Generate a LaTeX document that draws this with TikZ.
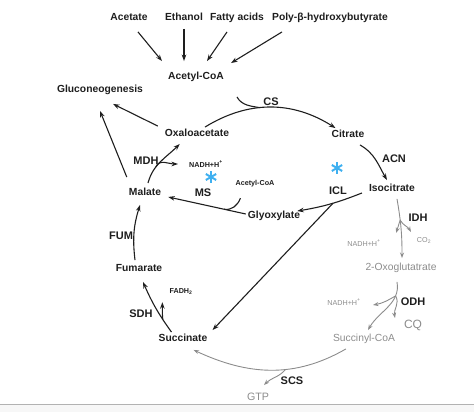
\documentclass[tikz,border=0pt]{standalone}
\usepackage{fontspec}
\setmainfont{Liberation Sans}
\usetikzlibrary{arrows.meta}
\definecolor{ink}{HTML}{1E1E1E}
\definecolor{grey}{HTML}{8C8C8C}
\definecolor{sky}{HTML}{3FB0F0}
\tikzset{
  lbl/.style={font=\bfseries\fontsize{10.3}{12}\selectfont, text=ink, inner sep=2pt, text height=7.5pt, text depth=2pt},
  enz/.style={lbl, font=\bfseries\fontsize{11}{13}\selectfont},
  tiny/.style={lbl, font=\bfseries\fontsize{7.2}{8}\selectfont, text height=5.5pt, text depth=1.5pt},
  glbl/.style={lbl, font=\fontsize{10.3}{12}\selectfont, text=grey},
  gtiny/.style={tiny, font=\fontsize{7.2}{8}\selectfont, text=grey},
  arr/.style={draw=ink, line width=1.1pt, -{Stealth[length=6.5pt,width=4.6pt]}},
  link/.style={draw=ink, line width=1.1pt},
  garr/.style={draw=grey, line width=0.9pt, -{Stealth[length=5.5pt,width=4pt]}},
  spark/.style={draw=sky, line width=2pt}
}
\begin{document}
\begin{tikzpicture}[x=1pt,y=1pt]
  \useasboundingbox (0,0) rectangle (474,-412);
  \fill[gray!6] (0,-404) rectangle (474,-412);
  \draw[gray!60] (0,-404) -- (474,-404);

  % substrates
  \node[lbl] (acetate) at (129,-18) {Acetate};
  \node[lbl] (ethanol) at (184,-18) {Ethanol};
  \node[lbl] (fatty) at (237,-18) {Fatty acids};
  \node[lbl] (phb) at (330,-18) {Poly-β-hydroxybutyrate};
  \node[lbl] (acoa) at (196,-77) {Acetyl-CoA};
  \node[lbl] (gluco) at (100,-90) {Gluconeogenesis};

  % cycle
  \node[lbl] (oaa) at (197,-134) {Oxaloacetate};
  \node[lbl] (cit) at (348,-135) {Citrate};
  \node[lbl] (iso) at (392,-189) {Isocitrate};
  \node[lbl] (glyox) at (274,-216) {Glyoxylate};
  \node[lbl] (malate) at (145,-193) {Malate};
  \node[lbl] (fumarate) at (139,-269) {Fumarate};
  \node[lbl] (succ) at (183,-339) {Succinate};
  \node[glbl] (oxo) at (401,-268) {2-Oxoglutatrate};
  \node[glbl] (succoa) at (364,-339) {Succinyl-CoA};
  \node[glbl, font=\fontsize{10.7}{12}\selectfont] (gtp) at (258,-398) {GTP};

  % enzymes
  \node[enz] (cs) at (271,-103) {CS};
  \node[enz] (acn) at (394,-160) {ACN};
  \node[enz] (icl) at (338,-192) {ICL};
  \node[enz] (idh) at (418,-219) {IDH};
  \node[enz] (odh) at (413,-303) {ODH};
  \node[enz] (scs) at (292,-382) {SCS};
  \node[enz] (sdh) at (141,-315) {SDH};
  \node[enz] (fum) at (121,-237) {FUM};
  \node[enz] (mdh) at (146,-162) {MDH};
  \node[enz] (ms) at (203,-194) {MS};

  % cofactors
  \node[tiny] (nadha) at (206,-165) {NADH+H\textsuperscript{+}};
  \node[tiny] (acoab) at (255,-183) {Acetyl-CoA};
  \node[tiny] (fadh) at (181,-291) {FADH\textsubscript{2}};
  \node[gtiny] (nadhb) at (364,-244) {NADH+H\textsuperscript{+}};
  \node[gtiny] (co2) at (424,-240) {CO\textsubscript{2}};
  \node[gtiny] (nadhc) at (344,-303) {NADH+H\textsuperscript{+}};
  \node[glbl, font=\fontsize{12}{14}\selectfont] (cq) at (413,-326) {CQ};

  \coordinate (idhl) at (396,-233);
  \coordinate (idhr) at (411,-232);
  \coordinate (odhl) at (373,-305);
  \coordinate (odhr) at (395,-318);
  \coordinate (star1) at (211,-177);
  \coordinate (star2) at (337,-168);

  % feeding into acetyl-CoA
  \draw[arr] ([shift={(9,-7)}]acetate.south) -- ([shift={(-34,9)}]acoa.north);
  \draw[arr] ([shift={(0,-4)}]ethanol.south) -- ([shift={(-12,9)}]acoa.north);
  \draw[arr] ([shift={(-10,-7)}]fatty.south) -- ([shift={(11,9)}]acoa.north);
  \draw[arr] ([shift={(12,-7)}]phb.south west) -- ([shift={(35,7)}]acoa.north);

  % gluconeogenesis
  \draw[arr] ([shift={(-5,1)}]oaa.north west) -- ([shift={(13,-7)}]gluco.south);
  \draw[arr] ([shift={(0,9)}]malate.north west) -- ([shift={(0,-14)}]gluco.south);

  % CS
  \draw[arr] ([shift={(8,0)}]oaa.north) to[bend left=32] coordinate[pos=0.42] (csjoin) ([shift={(6,0)}]cit.north west);
  \draw[link] ([shift={(11,-13)}]acoa.south east) to[out=-60,in=170] (csjoin);

  % ACN
  \draw[arr] ([shift={(12,-3)}]cit.south) to[out=-30,in=120] ([shift={(-5,2)}]iso.north);

  % ICL
  \draw[arr] ([shift={(-5,-4)}]iso.west) to[bend left=6] coordinate[pos=0.45] (icljoin) ([shift={(-5,-2)}]glyox.north east);
  \draw[arr] (icljoin) -- ([shift={(3,2)}]succ.north east);

  % MS
  \draw[arr] ([yshift=2]glyox.west) -- coordinate[pos=0.28] (msjoin) ([shift={(5,-4)}]malate.east);
  \draw[link] ([shift={(7,-9.5)}]acoab.south west) to[out=-110,in=-10] (msjoin);

  % MDH
  \draw[arr] ([shift={(3,3)}]malate.north) to[out=75,in=-135] coordinate[pos=0.35] (mdhjoin) ([shift={(17,-3)}]oaa.south west);
  \draw[arr] (mdhjoin) to[out=70,in=180] ([shift={(-9,1)}]nadha.west);

  % FUM
  \draw[arr] ([shift={(-4,2)}]fumarate.north) to[bend left=12] ([shift={(-5,-5)}]malate.south);

  % SDH
  \draw[arr] ([shift={(15,0)}]succ.north west) to[bend left=6] coordinate[pos=0.25] (sdhjoin) ([shift={(4,-6)}]fumarate.south);
  \draw[arr] (sdhjoin) to[out=95,in=-90] ([shift={(-5,-5.5)}]fadh.south west);

  % IDH
  \draw[garr] ([shift={(5,-3)}]iso.south) to[bend left=5] coordinate[pos=0.35] (idhjoin) ([shift={(1,3)}]oxo.north);
  \draw[garr] (idhjoin) to[out=-110,in=70] (idhl);
  \draw[garr] (idhjoin) to[out=-60,in=120] (idhr);

  % ODH
  \draw[garr] ([shift={(-4,-7)}]oxo.south) to[out=-80,in=60] coordinate[pos=0.25] (odhjoin) ([shift={(4,2)}]succoa.north);
  \draw[garr] (odhjoin) to[out=-150,in=10] (odhl);
  \draw[garr] (odhjoin) to[out=-60,in=100] (odhr);

  % SCS
  \draw[garr] ([shift={(15,-3)}]succoa.south west) to[out=-150,in=-25] coordinate[pos=0.4] (scsjoin) ([shift={(-16,-4)}]succ.south east);
  \draw[garr] (scsjoin) to[out=-130,in=45] ([shift={(6,6)}]gtp.north);

  % markers
  \foreach \s in {star1,star2}
    \foreach \a in {90,30,150}
      \draw[spark] ([shift={(\a:6)}]\s) -- ([shift={(\a+180:6)}]\s);
\end{tikzpicture}
\end{document}
